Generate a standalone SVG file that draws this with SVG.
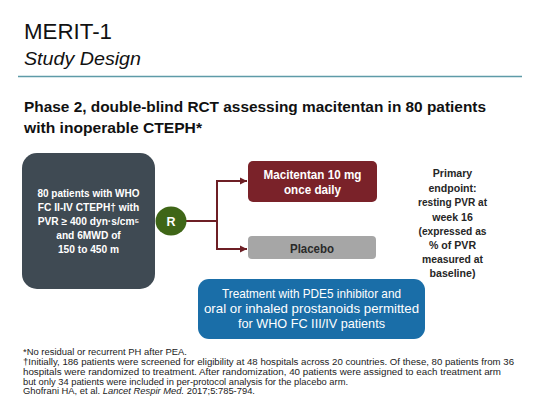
<svg xmlns="http://www.w3.org/2000/svg" width="540" height="405" viewBox="0 0 540 405">
<style>
text{font-family:"Liberation Sans","Open Sans",Arial,sans-serif}
.b{font-weight:bold}
.c{text-anchor:middle}
.w{fill:#ffffff}
.fn{font-size:9.6px;fill:#222222}
.conn{fill:none;stroke:#6d1f25;stroke-width:2}
</style>
<defs>
<marker id="ah" markerUnits="userSpaceOnUse" markerWidth="8" markerHeight="8" refX="7" refY="4" orient="auto">
<path d="M0,0.5 L7,4 L0,7.5 Z" fill="#6d1f25"/>
</marker>
</defs>
<rect width="540" height="405" fill="#ffffff"/>
<g id="title">
<text x="24" y="39" font-size="22" fill="#111111" textLength="88" lengthAdjust="spacingAndGlyphs">MERIT-1</text>
<text x="24" y="65" font-size="18.5" font-style="italic" fill="#111111" textLength="117" lengthAdjust="spacingAndGlyphs">Study Design</text>
<line x1="18" y1="76.5" x2="522" y2="76.5" stroke="#5e9ba8" stroke-width="1.5"/>
</g>
<g id="subtitle" class="b" font-size="15.5" fill="#111111">
<text x="24" y="112" textLength="462" lengthAdjust="spacingAndGlyphs">Phase 2, double-blind RCT assessing macitentan in 80 patients</text>
<text x="24" y="133" textLength="178" lengthAdjust="spacingAndGlyphs">with inoperable CTEPH*</text>
</g>
<g id="connectors">
<path class="conn" d="M186 221 H217 V181 H247" marker-end="url(#ah)"/>
<path class="conn" d="M217 221 V249 H247" marker-end="url(#ah)"/>
</g>
<g id="patients">
<rect x="22" y="153" width="133" height="136" rx="15" fill="#3f4a53"/>
<g class="b c w" font-size="10.2">
<text x="88.5" y="197" textLength="102" lengthAdjust="spacingAndGlyphs">80 patients with WHO</text>
<text x="88.5" y="211">FC II-IV CTEPH† with</text>
<text x="88.5" y="225">PVR ≥ 400 dyn·s/cm⁵</text>
<text x="88.5" y="239">and 6MWD of</text>
<text x="88.5" y="253">150 to 450 m</text>
</g>
</g>
<g id="randomize">
<ellipse cx="171" cy="221" rx="15.5" ry="14.5" fill="#3f6617"/>
<text x="171" y="225.5" class="b c w" font-size="12.5">R</text>
</g>
<g id="macitentan">
<rect x="248" y="161" width="129" height="41" rx="5" fill="#7a2229"/>
<text x="312.5" y="178.5" class="b c w" font-size="12.8" textLength="98" lengthAdjust="spacingAndGlyphs">Macitentan 10 mg</text>
<text x="312.5" y="194" class="b c w" font-size="12.8" textLength="57" lengthAdjust="spacingAndGlyphs">once daily</text>
</g>
<g id="placebo">
<rect x="248" y="236" width="128" height="23" rx="4" fill="#a6a6a6"/>
<text x="312" y="252.5" class="b c" font-size="12" fill="#2a2a2a" textLength="44" lengthAdjust="spacingAndGlyphs">Placebo</text>
</g>
<g id="endpoint" class="b c" font-size="10.6" fill="#262626">
<text x="452.5" y="177">Primary</text>
<text x="452.5" y="192">endpoint:</text>
<text x="452.5" y="206" textLength="69" lengthAdjust="spacingAndGlyphs">resting PVR at</text>
<text x="452.5" y="221">week 16</text>
<text x="452.5" y="235" textLength="68" lengthAdjust="spacingAndGlyphs">(expressed as</text>
<text x="452.5" y="249">% of PVR</text>
<text x="452.5" y="263" textLength="61" lengthAdjust="spacingAndGlyphs">measured at</text>
<text x="452.5" y="277">baseline)</text>
</g>
<g id="background-therapy">
<rect x="198" y="279" width="227" height="60" rx="11" fill="#1a6ea8"/>
<g class="c w" font-size="13">
<text x="311.5" y="298" textLength="179" lengthAdjust="spacingAndGlyphs">Treatment with PDE5 inhibitor and</text>
<text x="311.5" y="313" textLength="215" lengthAdjust="spacingAndGlyphs">oral or inhaled prostanoids permitted</text>
<text x="311.5" y="327.5" textLength="147" lengthAdjust="spacingAndGlyphs">for WHO FC III/IV patients</text>
</g>
</g>
<g id="footnotes" class="fn">
<text x="23" y="355" textLength="164" lengthAdjust="spacingAndGlyphs">*No residual or recurrent PH after PEA.</text>
<text x="23" y="365" textLength="491" lengthAdjust="spacingAndGlyphs">†Initially, 186 patients were screened for eligibility at 48 hospitals across 20 countries. Of these, 80 patients from 36</text>
<text x="23" y="375" textLength="478" lengthAdjust="spacingAndGlyphs">hospitals were randomized to treatment. After randomization, 40 patients were assigned to each treatment arm</text>
<text x="23" y="384.5" textLength="325" lengthAdjust="spacingAndGlyphs">but only 34 patients were included in per-protocol analysis for the placebo arm.</text>
<text x="23" y="394" textLength="232" lengthAdjust="spacingAndGlyphs">Ghofrani HA, et al. <tspan font-style="italic">Lancet Respir Med.</tspan> 2017;5:785-794.</text>
</g>
</svg>
